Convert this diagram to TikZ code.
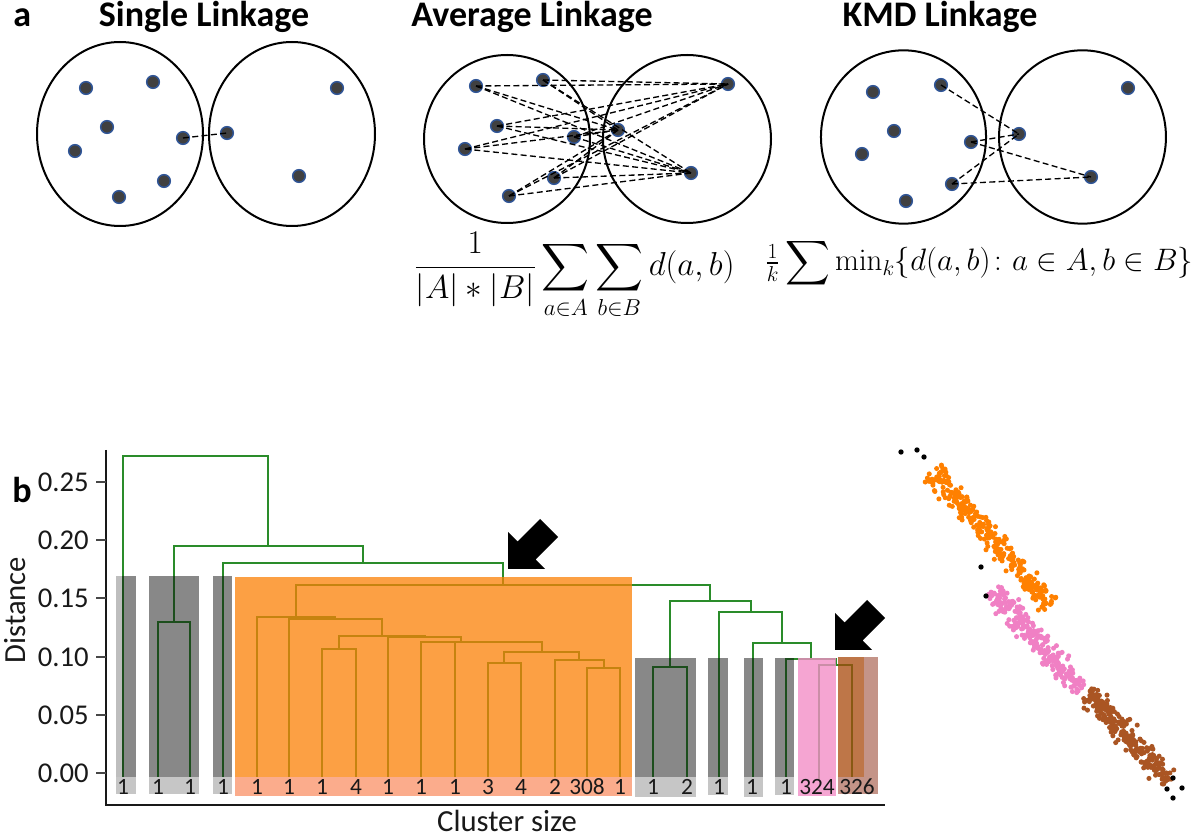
\documentclass[tikz,border=0pt]{standalone}
\usepackage{amsmath}
\usepackage{graphicx}
\usepackage[no-math]{fontspec}
\setmainfont{Carlito}
\definecolor{dotgray}{RGB}{64,64,64}
\definecolor{dotblue}{RGB}{47,85,151}
\definecolor{dgreen}{RGB}{42,140,42}
\definecolor{ovorange}{RGB}{251,128,6}
\definecolor{ovgray}{RGB}{17,17,17}
\definecolor{ovpink}{RGB}{243,143,199}
\definecolor{ovbrown}{RGB}{168,72,11}
\definecolor{bandgray}{RGB}{198,198,198}
\definecolor{lgray}{RGB}{190,190,190}
\definecolor{bandsalmon}{RGB}{251,172,140}
\definecolor{lbrown}{RGB}{196,148,136}
\definecolor{sorange}{RGB}{255,128,0}
\definecolor{spink}{RGB}{240,128,196}
\definecolor{sbrown}{RGB}{170,85,35}
\definecolor{txt}{RGB}{25,25,25}
\begin{document}
\begin{tikzpicture}[x=0.75pt,y=-0.75pt,
  dotnode/.style={circle, fill=dotgray, draw=dotblue, line width=1.1pt, minimum size=9.5pt, inner sep=0pt},
  lnk/.style={dash pattern=on 4.5pt off 2.5pt, line width=1pt, black},
  clu/.style={line width=1.5pt, black},
  ttl/.style={font=\bfseries\fontsize{27}{31}\selectfont, anchor=base, inner sep=0pt},
  den/.style={line width=1.5pt, dgreen},
  ovg/.style={fill=ovgray, fill opacity=0.5},
  ovo/.style={fill=ovorange, fill opacity=0.75},
  leaf/.style={font=\fontsize{17.5}{20}\selectfont, text=txt, anchor=base, inner sep=0pt},
  tick/.style={font=\fontsize{21.5}{24}\selectfont, text=txt, anchor=east, inner sep=0pt},
  axl/.style={font=\fontsize{23}{27}\selectfont, text=txt, inner sep=0pt},
  arr/.style={fill=black}
]
\useasboundingbox (0,0) rectangle (1200,837);

% ---------- panel a ----------
\node[ttl, anchor=base west] (la) at (13,27) {a};
\node[ttl] (t1) at (204,27) {Single Linkage};
\node[ttl] (t2) at (532,27) {Average Linkage};
\node[ttl] (t3) at (940,27) {KMD Linkage};

\draw[clu] (120,134) ellipse [x radius=62.25pt, y radius=69pt];
\draw[clu] (292,134) ellipse [x radius=62.25pt, y radius=69pt];
\draw[clu] (507,139) ellipse [x radius=62.25pt, y radius=63pt];
\draw[clu] (687,139) ellipse [x radius=63pt, y radius=63pt];
\draw[clu] (903.5,137) ellipse [x radius=61.9pt, y radius=65pt];
\draw[clu] (1082.5,137) ellipse [x radius=62.6pt, y radius=65pt];

% single
\foreach \n/\x/\y in {s1/86/88, s2/153/82, s3/107/127, s4/75/151, s5/183/138, s6/164/181, s7/119/197, s8/337/88, s9/227/133, s10/299/176}
  \node[dotnode] (\n) at (\x,\y) {};
\draw[lnk] (s5.center) -- (s9.center);

% average
\foreach \n/\x/\y in {a1/476/86, a2/543/80, a3/497/126, a4/465/149, a5/574/137, a6/554/178, a7/509/196, a8/618/130, a9/728/84, a10/691/173}
  \node[dotnode] (\n) at (\x,\y) {};
\foreach \p in {a1,a2,a3,a4,a5,a6,a7}
  \foreach \q in {a8,a9,a10}
    \draw[lnk] (\p.center) -- (\q.center);

% KMD
\foreach \n/\x/\y in {k1/873/92, k2/941/85, k3/894/131, k4/862/154, k5/971/142, k6/952/184, k7/906/201, k8/1019/134, k9/1128/88, k10/1091/177}
  \node[dotnode] (\n) at (\x,\y) {};
\draw[lnk] (k2.center) -- (k8.center);
\draw[lnk] (k5.center) -- (k8.center);
\draw[lnk] (k5.center) -- (k10.center);
\draw[lnk] (k6.center) -- (k8.center);
\draw[lnk] (k6.center) -- (k10.center);

% formulas
\node[anchor=west, inner sep=0pt, font=\fontsize{23}{27}\selectfont] (f1) at (414,276)
  {$\displaystyle \frac{1}{|A|\ast|B|}\sum_{a\in A}\sum_{b\in B} d(a,b)$};
\node[anchor=west, inner sep=0pt, font=\fontsize{23}{27}\selectfont] (f2) at (765,263)
  {\resizebox{321pt}{!}{$\tfrac{1}{k}\displaystyle\sum \mathrm{min}_k\{d(a,b)\colon a\in A, b\in B\}$}};

% ---------- panel b ----------
\node[ttl, anchor=base west] (lb) at (12,503) {b};

% dendrogram lines
\draw[den]
 (123,780) -- (123,456) -- (268,456) -- (268,546)
 (174,622) -- (174,546) -- (363,546) -- (363,563)
 (158,780) -- (158,622) -- (190,622) -- (190,780)
 (223,780) -- (223,563) -- (503,563) -- (503,585)
 (296,617) -- (296,585) -- (710,585) -- (710,601)
 (257,780) -- (257,617) -- (335,617) -- (335,619)
 (289,780) -- (289,619) -- (382,619) -- (382,636)
 (339,649) -- (339,636) -- (425,636) -- (425,637)
 (322,780) -- (322,649) -- (356,649) -- (356,780)
 (388,780) -- (388,637) -- (461,637) -- (461,642)
 (421,780) -- (421,642) -- (542,642) -- (542,652)
 (455,642) -- (455,780)
 (504,663) -- (504,652) -- (579,652) -- (579,660)
 (488,780) -- (488,663) -- (521,663) -- (521,780)
 (604,668) -- (604,660) -- (555,660) -- (555,780)
 (587,780) -- (587,668) -- (620,668) -- (620,780)
 (670,667) -- (670,601) -- (751,601) -- (751,612)
 (653,780) -- (653,667) -- (687,667) -- (687,780)
 (782,643) -- (782,612) -- (719,612) -- (719,780)
 (753,780) -- (753,643) -- (811,643) -- (811,659)
 (836,665) -- (836,659) -- (786,659) -- (786,780)
 (819,780) -- (819,665) -- (852,665) -- (852,780);

% overlays
\fill[lgray] (116,576) rectangle (122,777);
\fill[ovg] (122,576) rectangle (136,777);
\fill[ovg] (149,576) rectangle (199,777);
\fill[ovg] (213,576) rectangle (232,777);
\fill[ovo] (235,577) rectangle (632,777);
\fill[ovg] (635,658) rectangle (696,777);
\fill[ovg] (708,658) rectangle (728,777);
\fill[ovg] (744,658) rectangle (763,777);
\fill[ovg] (775,658) rectangle (794,777);
\fill[ovpink, fill opacity=0.8] (798,658) rectangle (836,796);
\fill[ovbrown, fill opacity=0.75] (838,657) rectangle (864,777);
\fill[lbrown] (864,657) rectangle (878,794);
\fill[lbrown] (838,777) rectangle (864,794);

% label bands
\fill[bandgray] (116,777) rectangle (136,794);
\fill[bandgray] (149,777) rectangle (199,794);
\fill[bandgray] (213,777) rectangle (232,794);
\fill[bandsalmon] (235,777) rectangle (632,796);
\fill[bandgray] (635,777) rectangle (696,797);
\fill[bandgray] (708,777) rectangle (728,795);
\fill[bandgray] (744,777) rectangle (763,797);
\fill[bandgray] (775,777) rectangle (794,795);

% leaf labels
\foreach \n/\x/\t in {l1/123/1, l2/158/1, l3/190/1, l4/223/1, l5/257/1, l6/289/1, l7/322/1, l8/356/4, l9/388/1, l10/421/1, l11/455/1, l12/488/3, l13/521/4, l14/555/2, l15/587/308, l16/620/1, l17/653/1, l18/687/2, l19/719/1, l20/752/1, l21/786/1, l22/817/324, l23/857/326}
  \node[leaf] (\n) at (\x,794) {\t};

% axes
\coordinate (ytop) at (106,450);
\coordinate (orig) at (106,805);
\coordinate (xend) at (885,805);
\draw[line width=1.5pt, txt] (ytop) -- (orig) -- (xend);
\foreach \v/\y in {0.25/482, 0.20/540, 0.15/598, 0.10/657, 0.05/715, 0.00/773}{
  \draw[line width=0.9pt, txt!80] (96,\y) -- (106,\y);
  \node[tick] at (89,\y) {\v};
}
\node[axl, rotate=90, anchor=base] (ylab) at (25,610) {Distance};
\node[axl, anchor=base] (xlab) at (507,831) {Cluster size};

% arrows
\fill[arr] (508,569) -- ++(0,-37) -- ++(9.5,9.5) -- ++(22.5,-22.5) -- ++(18,18) -- ++(-22.5,22.5) -- ++(9.5,9.5) -- cycle;
\fill[arr] (835,650) -- ++(0,-37) -- ++(9.5,9.5) -- ++(22.5,-22.5) -- ++(18,18) -- ++(-22.5,22.5) -- ++(9.5,9.5) -- cycle;

% ---------- scatter ----------
\pgfmathsetseed{42}
\foreach \i in {1,...,300}{
  \pgfmathsetmacro{\sT}{0.5+0.5*rand}
  \pgfmathsetmacro{\sO}{(19-6*\sT)*(rand+rand+rand)/3}
  \fill[sorange] ({932+118*\sT+0.754*\sO},{470+135*\sT-0.659*\sO}) circle[radius=1.9pt];
}
\foreach \i in {1,...,250}{
  \pgfmathsetmacro{\sT}{0.5+0.5*rand}
  \pgfmathsetmacro{\sO}{16*(rand+rand+rand)/3}
  \fill[spink] ({992+88*\sT+0.754*\sO},{590+100*\sT-0.659*\sO}) circle[radius=1.9pt];
}
\foreach \i in {1,...,250}{
  \pgfmathsetmacro{\sT}{0.5+0.5*rand}
  \pgfmathsetmacro{\sO}{16*(rand+rand+rand)/3}
  \fill[sbrown] ({1088+80*\sT+0.746*\sO},{692+90*\sT-0.666*\sO}) circle[radius=1.9pt];
}
\foreach \x/\y in {901/452, 917/450, 924/457, 981/567, 986/596, 1173/778, 1167/789, 1182/788, 1173/798}
  \fill[black] (\x,\y) circle[radius=2pt];
\end{tikzpicture}
\end{document}
